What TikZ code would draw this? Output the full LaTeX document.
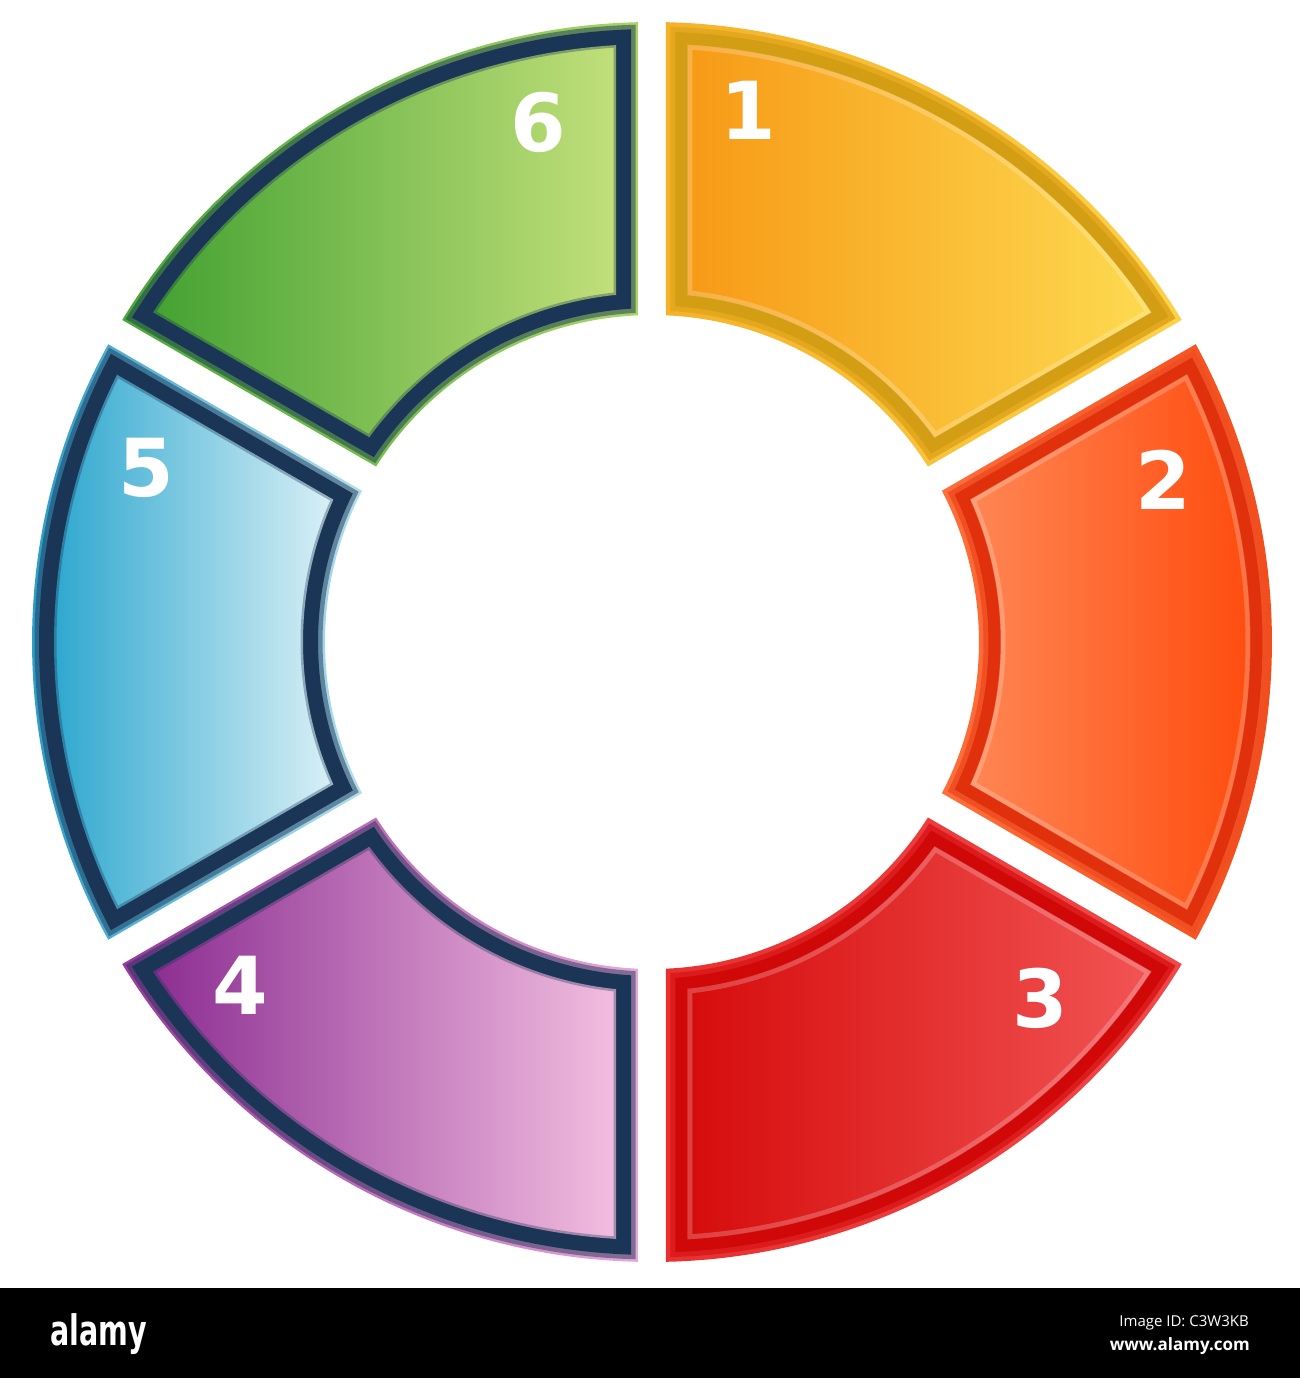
\documentclass[tikz,border=0pt]{standalone}
\usepackage{fontspec}
\newfontfamily\numfont{DejaVu Sans}
\newfontfamily\bannerfont{Open Sans}
\definecolor{navy}{HTML}{1B3556}
% segment 1
\definecolor{aRimL}{HTML}{F4B22A}\definecolor{aRimR}{HTML}{FCD24A}\definecolor{aBand}{HTML}{D39E14}
\definecolor{aFilL}{HTML}{F79A16}\definecolor{aFilR}{HTML}{FDDA50}
% segment 2
\definecolor{bRimL}{HTML}{FF6E3A}\definecolor{bRimR}{HTML}{F24A18}\definecolor{bBand}{HTML}{E0300C}
\definecolor{bFilL}{HTML}{FF8654}\definecolor{bFilR}{HTML}{FF480A}
% segment 3
\definecolor{cRimL}{HTML}{E83030}\definecolor{cRimR}{HTML}{F04848}\definecolor{cBand}{HTML}{D00808}
\definecolor{cFilL}{HTML}{D60C0C}\definecolor{cFilR}{HTML}{F25454}
% segment 4
\definecolor{dRimL}{HTML}{9A3A9E}\definecolor{dRimR}{HTML}{E8A8D8}
\definecolor{dFilL}{HTML}{8C2E92}\definecolor{dFilR}{HTML}{F2BEE0}
% segment 5
\definecolor{eRimL}{HTML}{2498C4}\definecolor{eRimR}{HTML}{B4DEEC}
\definecolor{eFilL}{HTML}{22A2CC}\definecolor{eFilR}{HTML}{DAF0F6}
% segment 6
\definecolor{fRimL}{HTML}{4AA838}\definecolor{fRimR}{HTML}{A8D468}
\definecolor{fFilL}{HTML}{44A232}\definecolor{fFilR}{HTML}{C2DF7A}
\tikzset{
  segshape/.style n args={3}{insert path={
    ({#1+asin((14+#3)/(620-#3))}:{620-#3})
    arc[start angle={#1+asin((14+#3)/(620-#3))}, end angle={#2-asin((14+#3)/(620-#3))}, radius={620-#3}]
    -- ({#2-asin((14+#3)/(327+#3))}:{327+#3})
    arc[start angle={#2-asin((14+#3)/(327+#3))}, end angle={#1+asin((14+#3)/(327+#3))}, radius={327+#3}]
    -- cycle}},
  numlabel/.style={text=white, font=\numfont\bfseries\fontsize{80}{80}\selectfont, inner sep=0pt},
  bannertext/.style={text=white, inner sep=0pt}
}
% \warmseg{a1}{a2}{prefix}
\newcommand\warmseg[3]{%
  \shade[left color=#3RimL, right color=#3RimR, segshape={#1}{#2}{0}];
  \fill[#3Band, segshape={#1}{#2}{7}];
  \draw[line width=5, draw=#3RimL!50!#3Band, segshape={#1}{#2}{7}];
  \shade[left color=#3FilL, right color=#3FilR, segshape={#1}{#2}{22}];
  \draw[line width=5, draw=white, draw opacity=0.22, segshape={#1}{#2}{24}];
}
\newcommand\coolseg[3]{%
  \shade[left color=#3RimL, right color=#3RimR, segshape={#1}{#2}{0}];
  \fill[navy, segshape={#1}{#2}{7}];
  \draw[line width=5, draw=navy, draw opacity=0.5, segshape={#1}{#2}{5}];
  \shade[left color=#3FilL, right color=#3FilR, segshape={#1}{#2}{22}];
  \draw[line width=5, draw=navy, draw opacity=0.35, segshape={#1}{#2}{22}];
}
\begin{document}
\begin{tikzpicture}[x=1pt,y=1pt]
  \useasboundingbox (-652,-736) rectangle (648,642);
  \fill[white] (-652,-736) rectangle (648,642);
  \coordinate (c) at (0,0);
  \warmseg{30}{90}{a}
  \warmseg{-30}{30}{b}
  \warmseg{-90}{-30}{c}
  \coolseg{-150}{-90}{d}
  \coolseg{150}{210}{e}
  \coolseg{90}{150}{f}
  \node[numlabel] (n1) at (96,532) {1};
  \node[numlabel] (n2) at (511,162) {2};
  \node[numlabel] (n3) at (388,-356) {3};
  \node[numlabel] (n4) at (-412,-343) {4};
  \node[numlabel] (n5) at (-506,174) {5};
  \node[numlabel] (n6) at (-114,520) {6};
  % banner
  \fill[black] (-652,-646) rectangle (648,-736);
  \node[bannertext, anchor=base west, xscale=0.68, font=\numfont\bfseries\fontsize{42}{42}\selectfont] (logo) at (-602,-703) {alamy};
  \node[bannertext, anchor=base east, font=\bannerfont\fontsize{15}{15}\selectfont] (imgid) at (597,-684) {Image ID: C3W3KB};
  \node[bannertext, anchor=base east, font=\bannerfont\bfseries\fontsize{17}{17}\selectfont] (url) at (598,-708) {www.alamy.com};
\end{tikzpicture}
\end{document}
